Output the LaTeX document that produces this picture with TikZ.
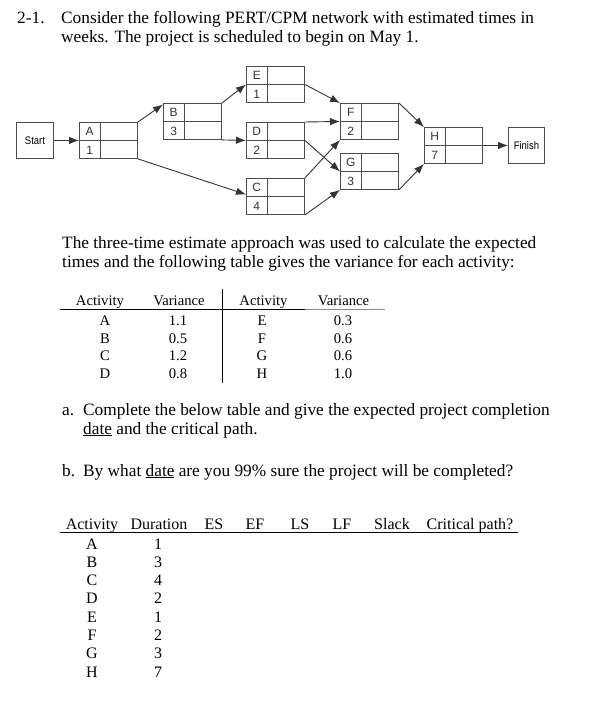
\documentclass[tikz,border=0pt]{standalone}
\usepackage{fontspec}
\setmainfont{Liberation Serif}
\newfontfamily\netfont{Liberation Sans}
\newfontfamily\narrowfont[FakeStretch=0.86]{Liberation Sans}
\usetikzlibrary{arrows.meta,calc}
\definecolor{boxgray}{gray}{0.3}
\definecolor{linegray}{gray}{0.2}
\newcommand{\mkbox}[5]{%
  \node[actbox] (#1) at (#2,#3) {};
  \draw[boxline] ([xshift=21.5pt]#1.north west) -- ([xshift=21.5pt]#1.south west);
  \draw[midline] (#1.west) -- (#1.east);
  \node[boxtxt] (#1l) at ($(#1.north west)+(10.75,9)$) {#4};
  \node[boxtxt] (#1d) at ($(#1.south west)+(10.75,-9)$) {#5};
}
\begin{document}
\begin{tikzpicture}[x=1pt,y=-1pt,
  txt/.style={anchor=base west,inner sep=0pt,font=\fontsize{17.3}{19}\selectfont},
  ttxt/.style={anchor=base,inner sep=0pt,font=\fontsize{16}{19}\selectfont},
  vtxt/.style={anchor=base,inner sep=0pt,font=\fontsize{14.67}{17}\selectfont},
  actbox/.style={draw=boxgray,line width=0.9pt,minimum width=58pt,minimum height=36pt,anchor=north west,inner sep=0pt},
  endbox/.style={draw=boxgray,line width=0.9pt,minimum width=37pt,minimum height=36pt,anchor=north west,inner sep=0pt,font=\narrowfont\fontsize{11}{12}\selectfont},
  boxline/.style={draw=boxgray,line width=0.9pt},
  midline/.style={draw=boxgray,line width=1.7pt},
  boxtxt/.style={inner sep=0pt,font=\netfont\fontsize{12}{13}\selectfont,text=black!80},
  conn/.style={draw=linegray,line width=0.9pt,-{Latex[length=10pt,width=7.5pt]}},
  rule/.style={draw=black,line width=0.9pt}]
\useasboundingbox (0,0) rectangle (597,702);

% heading text
\node[txt] (num) at (17,23) {2-1.};
\node[txt] (l1) at (61,23) {Consider the following PERT/CPM network with estimated times in};
\node[txt] (l2) at (61,42) {weeks. The project is scheduled to begin on May 1.};

% network
\node[endbox] (start) at (16,122) {Start};
\mkbox{A}{79}{122}{A}{1}
\mkbox{B}{163}{103}{B}{3}
\mkbox{E}{246}{66}{E}{1}
\mkbox{D}{246}{122}{D}{2}
\mkbox{C}{246}{178}{C}{4}
\mkbox{F}{340}{103}{F}{2}
\mkbox{G}{340}{153}{G}{3}
\mkbox{H}{424}{127}{H}{7}
\node[endbox,minimum width=36pt] (finish) at (508,127) {Finish};

\draw[conn] (start.east) -- (A.west);
\draw[conn] (A.north east) -- ([yshift=-1.5pt]B.north west);
\draw[conn] (A.south east) -- ([yshift=2pt]C.west);
\draw[conn] (B.north east) -- (E.west);
\draw[conn] (B.south east) -- (D.west);
\draw[conn] (E.east) -- (F.north west);
\draw[conn] (D.north east) -- (F.west);
\draw[conn] (D.east) -- (G.west);
\draw[conn] (C.north east) -- (F.south west);
\draw[conn] (C.south east) -- (G.south west);
\draw[conn] (F.north east) -- (H.north west);
\draw[conn] (G.south east) -- (H.south west);
\draw[conn] (H.east) -- (finish.west);

% paragraph
\node[txt] (p1) at (62,248) {The three-time estimate approach was used to calculate the expected};
\node[txt] (p2) at (62,267) {times and the following table gives the variance for each activity:};

% variance table
\node[vtxt] (vh1) at (100,305) {Activity};
\node[vtxt] (vh2) at (179,305) {Variance};
\node[vtxt] (vh3) at (263.5,305) {Activity};
\node[vtxt] (vh4) at (343.5,305) {Variance};
\coordinate (vl1) at (60,309.3);
\coordinate (vl2) at (305,309.3);
\coordinate (vl3) at (385,309.3);
\draw[rule] (vl1) -- (vl2);
\draw[draw=black!45,line width=0.9pt] (vl2) -- (vl3);
\coordinate (vt) at (222,289);
\coordinate (vb) at (222,383);
\draw[rule] (vt) -- (vb);
\foreach \a/\v/\b/\w [count=\i from 0] in {A/1.1/E/0.3, B/0.5/F/0.6, C/1.2/G/0.6, D/0.8/H/1.0}{
  \node[vtxt] (va\i) at (105,325.5+17.6*\i) {\a};
  \node[vtxt] (vv\i) at (178,325.5+17.6*\i) {\v};
  \node[vtxt] (vb\i) at (262,325.5+17.6*\i) {\b};
  \node[vtxt] (vw\i) at (343,325.5+17.6*\i) {\w};
}

% questions
\node[txt] (qa) at (62,415) {a.};
\node[txt] (qa1) at (83,415) {Complete the below table and give the expected project completion};
\node[txt] (qa2) at (83,434) {\underline{date} and the critical path.};
\node[txt] (qb) at (62,476) {b.};
\node[txt] (qb1) at (83,476) {By what \underline{date} are you 99\% sure the project will be completed?};

% bottom table
\node[ttxt] (h1) at (92,529) {Activity};
\node[ttxt] (h2) at (159,529) {Duration};
\node[ttxt] (h3) at (214,529) {ES};
\node[ttxt] (h4) at (255,529) {EF};
\node[ttxt] (h5) at (300,529) {LS};
\node[ttxt] (h6) at (342,529) {LF};
\node[ttxt] (h7) at (392,529) {Slack};
\node[ttxt] (h8) at (470,529) {Critical path?};
\coordinate (bl1) at (60,532.5);
\coordinate (bl2) at (518,532.5);
\draw[rule] (bl1) -- (bl2);
\foreach \a/\d [count=\i from 0] in {A/1,B/3,C/4,D/2,E/1,F/2,G/3,H/7}{
  \node[ttxt] (ba\i) at (92,549+18.3*\i) {\a};
  \node[ttxt] (bd\i) at (158,549+18.3*\i) {\d};
}
\end{tikzpicture}
\end{document}
